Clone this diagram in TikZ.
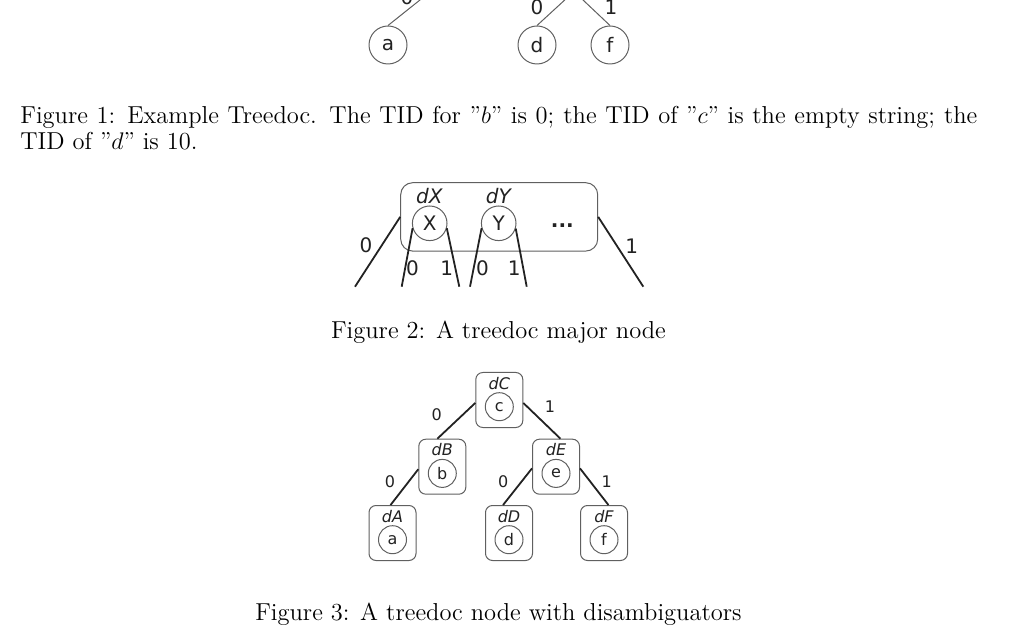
\documentclass[tikz,border=0pt]{standalone}
\usepackage{fontspec}
\usepackage{xcolor}
\usepackage{tikz}
\usetikzlibrary{positioning}
\newfontfamily\dvsans{DejaVu Sans}
\definecolor{inkgray}{HTML}{606060}
\definecolor{inkdark}{HTML}{222222}

\begin{document}
\begin{tikzpicture}[x=0.5pt,y=-0.5pt,
  tidcirc/.style={circle,draw=inkgray,line width=0.5pt,inner sep=0pt,text=inkdark},
  tidbox/.style={rectangle,draw=inkgray,line width=0.5pt,rounded corners=3.5pt,minimum width=23.5pt,minimum height=27.5pt,inner sep=0pt},
  tidedge/.style={draw=inkdark,line width=0.9pt},
  bitlbl/.style={inner sep=0pt,text=inkdark},
  capline/.style={inner sep=0pt,font={\fontsize{12.25}{13}\selectfont}}]
  \path[use as bounding box] (0,0) rectangle (1022,630);
  \clip (0,0) rectangle (1022,630);

  % figure 1 (top cut off by the page)
  \node[tidcirc,minimum size=19pt,font={\dvsans\fontsize{10}{12}\selectfont}] (ta) at (388,45) {a};
  \node[tidcirc,minimum size=19pt,font={\dvsans\fontsize{10}{12}\selectfont}] (td) at (537,45) {d};
  \node[tidcirc,minimum size=19pt,font={\dvsans\fontsize{10}{12}\selectfont}] (tf) at (610,45) {f};
  \coordinate (tb) at (445,-20);
  \coordinate (te) at (574,-8.5);
  \draw[draw=inkgray,line width=0.5pt] (tb) -- (ta.north);
  \draw[draw=inkgray,line width=0.5pt] (te) -- (td.north);
  \draw[draw=inkgray,line width=0.5pt] (te) -- (tf.north);
  \node[bitlbl,font={\dvsans\fontsize{10}{12}\selectfont}] (ta0) at (407,-2.5) {0};
  \node[bitlbl,font={\dvsans\fontsize{10}{12}\selectfont}] (td0) at (537,7.5) {0};
  \node[bitlbl,font={\dvsans\fontsize{10}{12}\selectfont}] (tf1) at (611,7.5) {1};

  \node[capline,anchor=base west] (cap1a) at (20,124) {\makebox[478.5pt][s]{Figure 1: Example Treedoc. The TID for ''$b$'' is 0; the TID of ''$c$'' is the empty string; the}};
  \node[capline,anchor=base west] (cap1b) at (20,150) {TID of ''$d$'' is 10.};

  % figure 2: major node
  \node[draw=inkgray,line width=0.5pt,rounded corners=6pt,minimum width=98.5pt,minimum height=34.2pt,inner sep=0pt] (major) at (499.2,216.9) {};
  \node[tidcirc,minimum size=17.3pt,font={\dvsans\fontsize{10}{12}\selectfont}] (X) at (429.7,223.3) {X};
  \node[tidcirc,minimum size=17.3pt,font={\dvsans\fontsize{10}{12}\selectfont}] (Y) at (498.7,223.3) {Y};
  \node[bitlbl,font={\dvsans\itshape\fontsize{10}{12}\selectfont}] (dX) at (429.3,196) {dX};
  \node[bitlbl,font={\dvsans\itshape\fontsize{10}{12}\selectfont}] (dY) at (498.3,196) {dY};
  \node[bitlbl,font={\dvsans\bfseries\fontsize{10}{12}\selectfont}] (more) at (562.3,225.7) {...};
  \coordinate (ml) at (355,286.7);
  \coordinate (mr) at (643.3,286.7);
  \coordinate (xl) at (401.7,286.7);
  \coordinate (xr) at (459.3,286.7);
  \coordinate (yl) at (470,286.7);
  \coordinate (yr) at (526.7,286.7);
  \draw[tidedge] (major.west) -- (ml);
  \draw[tidedge] (major.east) -- (mr);
  \draw[tidedge] (X.196) -- (xl);
  \draw[tidedge] (X.-16) -- (xr);
  \draw[tidedge] (Y.196) -- (yl);
  \draw[tidedge] (Y.-17) -- (yr);
  \node[bitlbl,font={\dvsans\fontsize{10}{12}\selectfont}] (ml0) at (366,245) {0};
  \node[bitlbl,font={\dvsans\fontsize{10}{12}\selectfont}] (mr1) at (631.7,246) {1};
  \node[bitlbl,font={\dvsans\fontsize{10}{12}\selectfont}] (x0) at (412.5,268) {0};
  \node[bitlbl,font={\dvsans\fontsize{10}{12}\selectfont}] (x1) at (446.7,268) {1};
  \node[bitlbl,font={\dvsans\fontsize{10}{12}\selectfont}] (y0) at (482.5,268) {0};
  \node[bitlbl,font={\dvsans\fontsize{10}{12}\selectfont}] (y1) at (514.3,268) {1};

  \node[capline,anchor=base] (cap2) at (498.5,339) {Figure 2: A treedoc major node};

  % figure 3: nodes with disambiguators
  \foreach \n/\l/\x/\y in {C/c/499.3/400, B/b/442.3/466.7, E/e/556/466.7, A/a/392.5/533, D/d/509/533, F/f/604/533}{
    \node[tidbox] (\n) at (\x,\y) {};
    \node[bitlbl,font={\dvsans\itshape\fontsize{8}{9}\selectfont}] (d\n) at (\x,\y-16.7) {d\n};
    \node[tidcirc,minimum size=14pt,font={\dvsans\fontsize{8}{9}\selectfont}] (c\n) at (\x,\y+6.7) {\l};
  }
  \draw[tidedge] (C.187) -- (B.100);
  \draw[tidedge] (C.-7) -- (E.81);
  \draw[tidedge] (B.186) -- (A.94);
  \draw[tidedge] (E.184) -- (D.102);
  \draw[tidedge] (E.-4) -- (F.81);
  \node[bitlbl,font={\dvsans\fontsize{8}{9}\selectfont}] (cb0) at (436.7,415) {0};
  \node[bitlbl,font={\dvsans\fontsize{8}{9}\selectfont}] (ce1) at (550,406.7) {1};
  \node[bitlbl,font={\dvsans\fontsize{8}{9}\selectfont}] (ba0) at (390,481.7) {0};
  \node[bitlbl,font={\dvsans\fontsize{8}{9}\selectfont}] (ed0) at (503.3,481.7) {0};
  \node[bitlbl,font={\dvsans\fontsize{8}{9}\selectfont}] (ef1) at (606.7,481.7) {1};

  \node[capline,anchor=base] (cap3) at (498.5,620) {Figure 3: A treedoc node with disambiguators};
\end{tikzpicture}
\end{document}
